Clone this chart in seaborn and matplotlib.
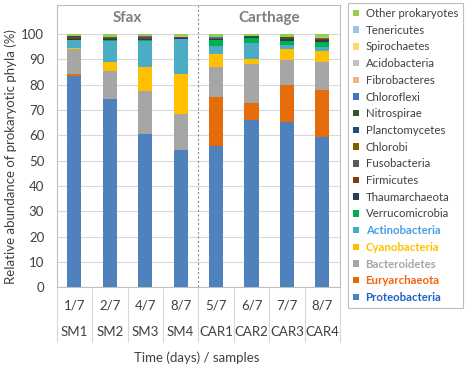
import numpy as np
import matplotlib
matplotlib.use("Agg")
import matplotlib.pyplot as plt
import seaborn as sns
from matplotlib.patches import Patch
from matplotlib.transforms import blended_transform_factory

# samples and sampling days
samples = ["SM1", "SM2", "SM3", "SM4", "CAR1", "CAR2", "CAR3", "CAR4"]
days = ["1/7", "2/7", "4/7", "8/7", "5/7", "6/7", "7/7", "8/7"]
sites = ["Sfax", "Carthage"]

# relative abundance (%) per phylum, one value per sample
proteobacteria = [83.3, 74.3, 60.6, 54.3, 56.0, 66.1, 65.3, 59.2]
euryarchaeota = [1.0, 0.2, 0.1, 0.1, 19.1, 6.5, 14.7, 18.8]
bacteroidetes = [9.8, 10.9, 17.0, 14.0, 12.1, 15.7, 9.6, 10.9]
cyanobacteria = [0.6, 3.6, 9.5, 15.9, 4.9, 1.8, 4.5, 4.5]
actinobacteria = [2.8, 8.4, 10.0, 13.7, 3.3, 6.5, 1.7, 1.5]
verrucomicrobia = [0.3, 0.2, 0.3, 0.2, 2.1, 1.7, 1.4, 1.9]
thaumarchaeota = [0.1, 0.3, 0.4, 0.4, 0.6, 0.4, 1.0, 0.8]
firmicutes = [1.0, 0.5, 0.8, 0.1, 0.1, 0.1, 0.1, 0.5]
fusobacteria = [0.1, 0.3, 0.2, 0.1, 0.1, 0.1, 0.1, 0.1]
chlorobi = [0.0, 0.0, 0.0, 0.0, 0.1, 0.0, 0.0, 0.1]
planctomycetes = [0.1, 0.0, 0.1, 0.1, 0.1, 0.1, 0.1, 0.1]
nitrospirae = [0.0, 0.0, 0.0, 0.0, 0.1, 0.1, 0.2, 0.1]
chloroflexi = [0.1, 0.1, 0.1, 0.1, 0.1, 0.1, 0.1, 0.1]
fibrobacteres = [0.0, 0.0, 0.0, 0.0, 0.0, 0.0, 0.0, 0.0]
acidobacteria = [0.1, 0.0, 0.0, 0.1, 0.1, 0.1, 0.1, 0.1]
spirochaetes = [0.0, 0.0, 0.0, 0.0, 0.0, 0.0, 0.0, 0.0]
tenericutes = [0.1, 0.1, 0.1, 0.1, 0.0, 0.0, 0.0, 0.0]
other = [0.6, 1.1, 0.9, 1.0, 1.2, 0.7, 1.1, 1.3]

# stacking order, bottom to top
phyla = [
    ("Proteobacteria", proteobacteria, "#4F81BD"),
    ("Euryarchaeota", euryarchaeota, "#E46C0A"),
    ("Bacteroidetes", bacteroidetes, "#A6A6A6"),
    ("Cyanobacteria", cyanobacteria, "#FFC000"),
    ("Actinobacteria", actinobacteria, "#4BACC6"),
    ("Verrucomicrobia", verrucomicrobia, "#00B050"),
    ("Thaumarchaeota", thaumarchaeota, "#2B3A55"),
    ("Firmicutes", firmicutes, "#843C0C"),
    ("Fusobacteria", fusobacteria, "#595959"),
    ("Chlorobi", chlorobi, "#7F6000"),
    ("Planctomycetes", planctomycetes, "#1F4E79"),
    ("Nitrospirae", nitrospirae, "#375623"),
    ("Chloroflexi", chloroflexi, "#4472C4"),
    ("Fibrobacteres", fibrobacteres, "#F4B183"),
    ("Acidobacteria", acidobacteria, "#BFBFBF"),
    ("Spirochaetes", spirochaetes, "#FFD966"),
    ("Tenericutes", tenericutes, "#9DC3E6"),
    ("Other prokaryotes", other, "#92D050"),
]
highlight = {
    "Proteobacteria": "#1F63C6",
    "Euryarchaeota": "#F0650E",
    "Bacteroidetes": "#A6A6A6",
    "Cyanobacteria": "#FFC000",
    "Actinobacteria": "#4A9DEB",
}

sns.set_style("white")
plt.rcParams['font.family'] = ['Lato', 'DejaVu Sans']
text_col = "#404040"
line_col = "#D9D9D9"

fig = plt.figure(figsize=(4.74, 3.70), dpi=100)
ax = fig.add_axes([0.1196, 0.2235, 0.5977, 0.763])

bottom = np.zeros(len(samples))
for name, vals, col in phyla:
    sns.barplot(x=samples, y=vals, color=col, width=0.4, bottom=bottom.copy(),
                errorbar=None, saturation=1, linewidth=0, ax=ax)
    bottom += np.array(vals)

ax.set_xlim(-0.5, len(samples) - 0.5)
ax.set_ylim(0, 111.5)
ax.set_yticks(range(0, 101, 10))
ax.yaxis.grid(True, color=line_col, linewidth=0.8)
ax.set_axisbelow(True)
ax.tick_params(axis='y', length=0, labelsize=9.5, labelcolor=text_col, pad=9)
ax.set_xticks(range(len(samples)))
ax.set_xticklabels([])
ax.tick_params(axis='x', length=0)
ax.set_xlabel("")
ax.set_ylabel("")
for sp in ax.spines.values():
    sp.set_color("#BFBFBF")
    sp.set_linewidth(0.8)

# site separator and site names
ax.axvline(3.5, color="#8C8C8C", linestyle=(0, (2, 2)), linewidth=0.8)
ax.text(1.5, 106.4, sites[0], ha='center', va='center', fontsize=11,
        fontweight='bold', color="#7F7F7F")
ax.text(5.5, 106.4, sites[1], ha='center', va='center', fontsize=11,
        fontweight='bold', color="#7F7F7F")

# two-level category axis
tr = blended_transform_factory(ax.transData, ax.transAxes)
for i in range(len(samples)):
    ax.text(i, -0.065, days[i], transform=tr, ha='center', va='center',
            fontsize=9.5, color=text_col)
    ax.text(i, -0.157, samples[i], transform=tr, ha='center', va='center',
            fontsize=9.5, color=text_col)
for i in range(len(samples) + 1):
    ax.plot([i - 0.5, i - 0.5], [0, -0.193], transform=tr, color=line_col,
            linewidth=0.8, clip_on=False)

fig.text(0.022, 0.578, "Relative abundance of prokaryotic phyla (%)",
         rotation=90, ha='center', va='center', fontsize=9.5, color=text_col)
fig.text(0.416, 0.032, "Time (days) / samples", ha='center', va='center',
         fontsize=9.5, color=text_col)

# legend, top entry is the last stacked layer
handles = [Patch(facecolor=col, edgecolor='none') for _, _, col in phyla[::-1]]
labels = [name for name, _, _ in phyla[::-1]]
leg = fig.legend(handles, labels, loc='upper left', bbox_to_anchor=(0.734, 0.992),
                 frameon=True, fancybox=False, edgecolor="#BFBFBF", framealpha=1,
                 fontsize=8.2, handlelength=0.5, handleheight=0.5,
                 handletextpad=0.6, labelspacing=0.5, borderpad=0.45,
                 borderaxespad=0)
leg.get_frame().set_linewidth(0.8)
for t in leg.get_texts():
    name = t.get_text()
    if name in highlight:
        t.set_color(highlight[name])
        t.set_fontweight('bold')
    else:
        t.set_color(text_col)

fig.savefig("out.png", dpi=100)
